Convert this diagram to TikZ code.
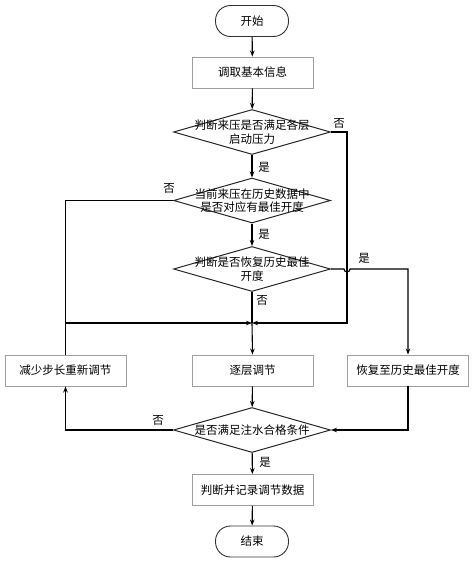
\documentclass[tikz,border=0pt]{standalone}
\usepackage{fontspec}
\newfontfamily\cjk{Noto Sans CJK SC}
\usetikzlibrary{shapes.geometric,arrows.meta}
\begin{document}
\begin{tikzpicture}[x=1pt,y=-1pt,
  font=\cjk\fontsize{11.5}{13.5}\selectfont,
  line width=1.1pt,
  boxnode/.style={draw=gray!75,line width=0.9pt,fill=white,minimum width=121pt,minimum height=31pt,inner sep=1pt},
  termnode/.style={draw=black!80,line width=0.9pt,rounded corners=15pt,minimum width=73pt,minimum height=31pt},
  dianode/.style={draw=black!85,line width=1pt,diamond,inner sep=0pt,minimum width=157pt,minimum height=45pt},
  dtext/.style={align=center,inner sep=0pt},
  lbl/.style={inner sep=1pt},
  arr/.style={-{Stealth[length=6pt,width=4.5pt]}}]
\useasboundingbox (0,0) rectangle (474,562);
\node[termnode] (start) at (252,21) {开始};
\node[boxnode] (info) at (252.5,72.5) {调取基本信息};
\node[dianode] (d1) at (252,132) {};
\node[dtext] at (d1) {判断来压是否满足各层\\启动压力};
\node[dianode] (d2) at (252,200.5) {};
\node[dtext] at (d2) {当前来压在历史数据中\\是否对应有最佳开度};
\node[dianode] (d3) at (252,269) {};
\node[dtext] at (d3) {判断是否恢复历史最佳\\开度};
\node[boxnode] (reduce) at (65.5,370.5) {减少步长重新调节};
\node[boxnode] (layer) at (252.5,370.5) {逐层调节};
\node[boxnode] (restore) at (408,370.5) {恢复至历史最佳开度};
\node[dianode] (d4) at (252,430) {};
\node[dtext] at (d4) {是否满足注水合格条件};
\node[boxnode] (record) at (252.5,490) {判断并记录调节数据};
\node[termnode] (finish) at (252,541.5) {结束};

\coordinate (J) at (252,323);
\coordinate (L) at (66,323);
\coordinate (R1) at (347,132);
\coordinate (R2) at (347,323);

\draw[arr] (start) -- (info);
\draw[arr] (info) -- (d1);
\draw[arr] (d1) -- (d2);
\draw[arr] (d2) -- (d3);
\draw (d2.west) -| (reduce.north);
\draw[arr] (L) -- (J);
\draw[arr] (d1.east) -- (R1) -- (R2) -- (J);
\draw (d3.south) -- (J);
\draw[arr] (J) -- (layer.north);
\draw[arr] (d3.east) -- (344,269) arc[start angle=180,end angle=0,radius=3] -- (408,269) -- (restore.north);
\draw[arr] (layer) -- (d4);
\draw[arr] (d4.west) -| (reduce.south);
\draw[arr] (restore.south) |- (d4.east);
\draw[arr] (d4) -- (record);
\draw[arr] (record) -- (finish);

\node[lbl] at (339,123) {否};
\node[lbl] at (264,167) {是};
\node[lbl] at (169,188) {否};
\node[lbl] at (264,234) {是};
\node[lbl] at (364,258) {是};
\node[lbl] at (262,300) {否};
\node[lbl] at (158,420) {否};
\node[lbl] at (265,462) {是};
\end{tikzpicture}
\end{document}
